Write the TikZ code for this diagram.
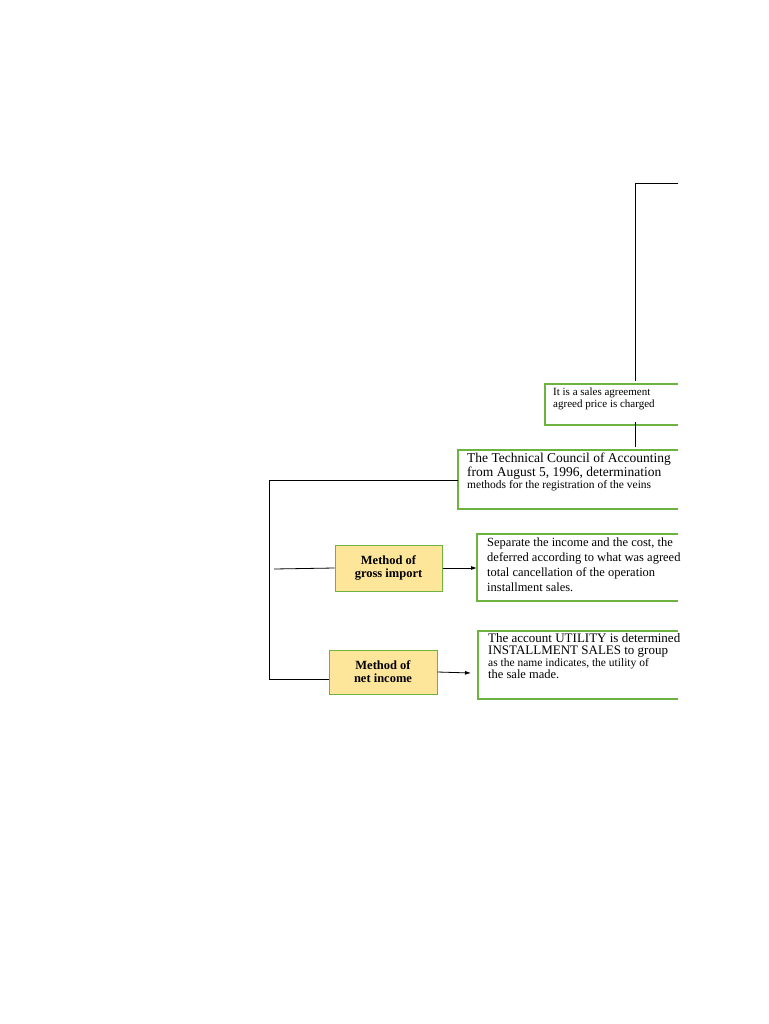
\documentclass[tikz,border=0pt]{standalone}
\usepackage{fontspec}
\setmainfont{Liberation Serif}
\usetikzlibrary{arrows.meta}
\definecolor{grn}{HTML}{6DB33F}
\definecolor{yel}{HTML}{FDE59A}
\begin{document}
\begin{tikzpicture}[x=1pt,y=-1pt,
  open/.style={draw=grn,line width=1.2pt},
  conn/.style={draw=black,line width=0.8pt},
  arr/.style={conn,-{Latex[length=6pt,width=4pt]}},
  meth/.style={draw=grn,line width=1pt,fill=yel,font=\bfseries\fontsize{12.5}{13}\selectfont,align=center,inner sep=0pt},
  txt/.style={anchor=north west,inner sep=0pt,align=left}]
\useasboundingbox (0,0) rectangle (768,1024);
% top line
\coordinate (t0) at (678,183);
\coordinate (t1) at (635,183);
\coordinate (t2) at (635,381);
\draw[conn] (t0) -- (t1) -- (t2);
% box 1
\draw[open] (678,384) -- (545,384) -- (545,425) -- (678,425);
\node[txt,font=\fontsize{11}{12}\selectfont] (b1) at (553,388) {It is a sales agreement\\agreed price is charged};
\coordinate (c1) at (635,422);
\coordinate (c2) at (635,447);
\draw[conn] (c1) -- (c2);
% box 2
\draw[open] (678,450) -- (458,450) -- (458,509) -- (678,509);
\node[txt] (b2) at (467,453) {\fontsize{13.5}{14.5}\selectfont The Technical Council of Accounting\\\fontsize{13.5}{14.5}\selectfont from August 5, 1996, determination\\\fontsize{11.5}{14.5}\selectfont methods for the registration of the veins};
% bracket
\coordinate (k1) at (458,480);
\coordinate (k2) at (269,480);
\coordinate (k3) at (269,679);
\coordinate (k4) at (329,679);
\draw[conn] (k1) -- (k2) -- (k3) -- (k4);
% gross
\node[meth,minimum width=107pt,minimum height=46pt] (g) at (388.5,568) {Method of\\gross import};
\coordinate (g0) at (274,569);
\draw[conn] (g0) -- (g.west);
\coordinate (g3) at (477,568);
\draw[arr] (g.east) -- (g3);
\draw[open] (678,534) -- (477,534) -- (477,601) -- (678,601);
\node[txt,font=\fontsize{12.5}{15}\selectfont] (b3) at (487,538) {Separate the income and the cost, the\\deferred according to what was agreed\\total cancellation of the operation\\installment sales.};
% net
\node[meth,minimum width=108pt,minimum height=44pt] (n) at (383,672) {Method of\\net income};
\coordinate (n3) at (471,673);
\draw[arr] (n.east) -- (n3);
\draw[open] (678,631) -- (478,631) -- (478,699) -- (678,699);
\node[txt] (b4) at (488,633) {\fontsize{13}{15.5}\selectfont The account UTILITY is determined\\\fontsize{13}{15.5}\selectfont INSTALLMENT SALES to group\\\fontsize{11.5}{15.5}\selectfont as the name indicates, the utility of\\\fontsize{12.5}{15.5}\selectfont the sale made.};
\end{tikzpicture}
\end{document}
